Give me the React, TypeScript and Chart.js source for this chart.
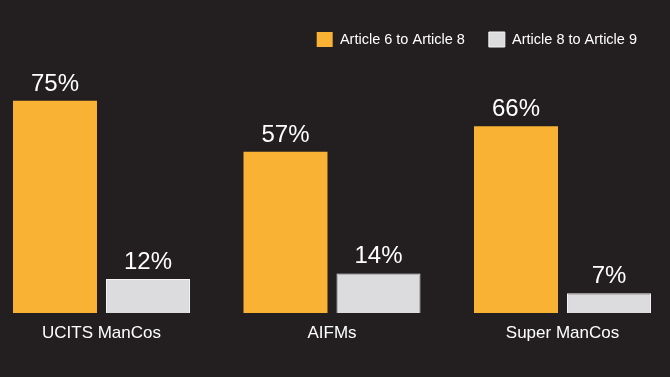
import React, { useEffect, useRef } from "react";
import { Chart, registerables } from "chart.js";

Chart.register(...registerables);

const categories = ["UCITS ManCos", "AIFMs", "Super ManCos"];
const seriesNames = ["Article 6 to Article 8", "Article 8 to Article 9"];
const article6to8 = [75, 57, 66];
const article8to9 = [12, 14, 7];

const BG = "#231f20";
const ORANGE = "#fab235";
const GRAY = "#dcdcde";
const FONT = "'Liberation Sans', Arial, Helvetica, sans-serif";
const Y_MAX = 90.5;

const bgPlugin = {
  id: "bgFill",
  beforeDraw(chart: any) {
    const { ctx, width, height } = chart;
    ctx.save();
    ctx.fillStyle = BG;
    ctx.fillRect(0, 0, width, height);
    ctx.restore();
  },
};

const valueLabelPlugin = {
  id: "valueLabels",
  afterDatasetsDraw(chart: any) {
    const { ctx } = chart;
    ctx.save();
    ctx.fillStyle = "#ffffff";
    ctx.font = `24px ${FONT}`;
    ctx.textAlign = "center";
    ctx.textBaseline = "alphabetic";
    chart.data.datasets.forEach((ds: any, di: number) => {
      const meta = chart.getDatasetMeta(di);
      meta.data.forEach((bar: any, i: number) => {
        ctx.fillText(`${ds.data[i]}%`, bar.x, bar.y - 10);
      });
    });
    ctx.restore();
  },
};

export default function App() {
  const ref = useRef<HTMLCanvasElement | null>(null);

  useEffect(() => {
    document.body.style.margin = "0";
    if (!ref.current) return;
    const chart = new Chart(ref.current, {
      type: "bar",
      data: {
        labels: categories,
        datasets: [
          {
            label: seriesNames[0],
            data: article6to8,
            backgroundColor: ORANGE,
            borderColor: ORANGE,
            borderWidth: 0,
            clip: false as any,
          },
          {
            label: seriesNames[1],
            data: article8to9,
            backgroundColor: GRAY,
            borderColor: "#f4f4f4",
            borderWidth: 1,
            clip: false as any,
          },
        ],
      },
      options: {
        animation: false,
        responsive: true,
        maintainAspectRatio: false,
        layout: { padding: { top: 8, left: 0, right: 9, bottom: 0 } },
        datasets: {
          bar: {
            categoryPercentage: 0.807,
            barPercentage: 0.903,
          },
        },
        plugins: {
          legend: {
            display: true,
            position: "top",
            align: "end",
            labels: {
              color: "#ffffff",
              boxWidth: 16,
              boxHeight: 15,
              padding: 24,
              font: { family: FONT, size: 14.5 },
            },
          },
          tooltip: { enabled: false },
        },
        scales: {
          x: {
            offset: false,
            grid: { display: false, drawTicks: false },
            border: { display: false },
            ticks: {
              color: "#ffffff",
              font: { family: FONT, size: 17 },
              padding: 10,
              maxRotation: 0,
              autoSkip: false,
            },
            afterFit(s: any) {
              s.height = 64;
            },
          },
          y: {
            position: "left",
            min: 0,
            max: Y_MAX,
            display: true,
            grid: { display: false, drawTicks: false },
            border: { display: false },
            ticks: { display: false },
            afterFit(s: any) {
              s.width = 101.5;
            },
          },
          y2: {
            position: "right",
            min: 0,
            max: Y_MAX,
            display: true,
            grid: { display: false, drawTicks: false },
            border: { display: false },
            ticks: { display: false },
            afterFit(s: any) {
              s.width = 98.5;
            },
          },
        },
      },
      plugins: [bgPlugin, valueLabelPlugin],
    });
    return () => chart.destroy();
  }, []);

  return (
    <div style={{ position: "absolute", left: 0, top: 0, width: 670, height: 377 }}>
      <canvas ref={ref} />
    </div>
  );
}
